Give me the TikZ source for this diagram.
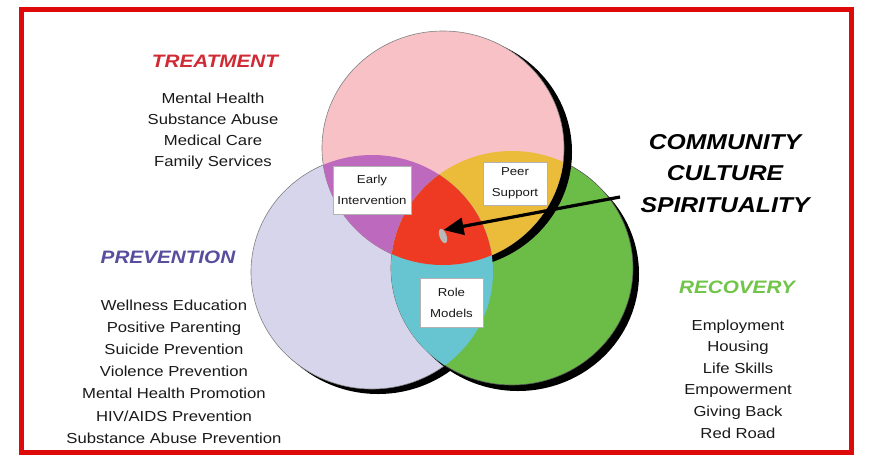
\documentclass[tikz,border=0pt]{standalone}
\usepackage{fontspec}
\usepackage{xcolor}
\usepackage{tikz}
\usetikzlibrary{calc, arrows.meta, shapes.geometric}

\newfontfamily\labelfont[FakeStretch=1.15]{Liberation Sans}

\definecolor{frameRed}{RGB}{222,10,10}
\definecolor{treatPink}{RGB}{247,193,197}
\definecolor{prevLav}{RGB}{215,213,235}
\definecolor{recGreen}{RGB}{108,189,72}
\definecolor{earlyPurple}{RGB}{189,106,190}
\definecolor{peerYellow}{RGB}{235,187,58}
\definecolor{coreRed}{RGB}{238,58,34}
\definecolor{roleCyan}{RGB}{102,197,209}
\definecolor{treatHead}{RGB}{208,42,52}
\definecolor{prevHead}{RGB}{88,78,158}
\definecolor{recHead}{RGB}{112,196,72}
\definecolor{itemGray}{RGB}{25,25,25}

\def\rx{121}
\def\ry{117}

\begin{document}
\begin{tikzpicture}[x=1pt, y=-1pt, >={Triangle[length=20pt,width=17pt]},
    heading/.style={font=\labelfont\bfseries\itshape\fontsize{18}{20}\selectfont, inner sep=0pt},
    itemlist/.style={font=\labelfont\fontsize{14.5}{#1}\selectfont, text=itemGray, align=center, inner sep=0pt},
    areabox/.style={draw=gray!60, line width=0.6pt, fill=white, align=center, inner sep=0pt,
                    text=itemGray, font=\labelfont\fontsize{11.5}{21}\selectfont}]

    % =================================================================
    % 1. FRAME AND CIRCLE CENTRES
    % =================================================================
    \useasboundingbox (0,0) rectangle (871,464);
    \draw[frameRed, line width=5pt] (21.5,9) rectangle (851.5,452);

    \coordinate (T) at (443,148);   % treatment
    \coordinate (L) at (372,272);   % prevention
    \coordinate (R) at (512,268);   % recovery

    % =================================================================
    % 2. CIRCLES WITH THEIR DROP SHADOWS
    % =================================================================
    \fill[black] ($(L)+(6,5)$) ellipse [x radius=\rx, y radius=\ry];
    \filldraw[fill=prevLav, draw=gray, line width=0.6pt] (L) ellipse [x radius=\rx, y radius=\ry];

    \fill[black] ($(R)+(6,6)$) ellipse [x radius=\rx, y radius=\ry];
    \filldraw[fill=recGreen, draw=gray!70!black, line width=0.6pt] (R) ellipse [x radius=\rx, y radius=\ry];

    \fill[black] ($(T)+(8,4)$) ellipse [x radius=\rx, y radius=\ry];
    \filldraw[fill=treatPink, draw=gray, line width=0.6pt] (T) ellipse [x radius=\rx, y radius=\ry];

    % =================================================================
    % 3. OVERLAPS
    % =================================================================
    \begin{scope}
        \clip (T) ellipse [x radius=\rx, y radius=\ry];
        \fill[earlyPurple] (L) ellipse [x radius=\rx, y radius=\ry];
        \fill[peerYellow] (R) ellipse [x radius=\rx, y radius=\ry];
    \end{scope}
    \begin{scope}
        \clip (L) ellipse [x radius=\rx, y radius=\ry];
        \fill[roleCyan] (R) ellipse [x radius=\rx, y radius=\ry];
        \clip (R) ellipse [x radius=\rx, y radius=\ry];
        \fill[coreRed] (T) ellipse [x radius=\rx, y radius=\ry];
    \end{scope}

    % =================================================================
    % 4. LABEL BOXES, CENTRE FIGURE AND ARROW
    % =================================================================
    \node[areabox, minimum width=78pt, minimum height=48pt] (early) at (372,190) {Early\\Intervention};
    \node[areabox, minimum width=64pt, minimum height=43pt] (peer) at (515,183.5) {Peer\\Support};
    \node[areabox, minimum width=63pt, minimum height=49pt] (role) at (451.5,302.5) {Role\\Models};

    \node[fill=gray!55, ellipse, inner sep=0pt, minimum width=7pt, minimum height=15pt, rotate=20] (figure) at (443,236) {};
    \coordinate (arrowTail) at (620,197);
    \draw[->, line width=3.2pt] (arrowTail) -- (figure.north east);

    % =================================================================
    % 5. HEADINGS AND LISTS
    % =================================================================
    \node[heading, text=treatHead] (treatment) at (215,61) {TREATMENT};
    \node[itemlist=21] (treatlist) at (213,131.5) {Mental Health\\Substance Abuse\\Medical Care\\Family Services};

    \node[heading, text=prevHead] (prevention) at (168,257) {PREVENTION};
    \node[itemlist=22.2] (prevlist) at (174,371.5) {Wellness Education\\Positive Parenting\\Suicide Prevention\\Violence Prevention\\Mental Health Promotion\\HIV/AIDS Prevention\\Substance Abuse Prevention};

    \node[heading, text=recHead] (recovery) at (737,287) {RECOVERY};
    \node[itemlist=21.6] (reclist) at (738,379) {Employment\\Housing\\Life Skills\\Empowerment\\Giving Back\\Red Road};

    \node[heading, text=black, align=center, font=\labelfont\bfseries\itshape\fontsize{21.5}{31.5}\selectfont] (community) at (725,173.5) {COMMUNITY\\CULTURE\\SPIRITUALITY};

\end{tikzpicture}
\end{document}
